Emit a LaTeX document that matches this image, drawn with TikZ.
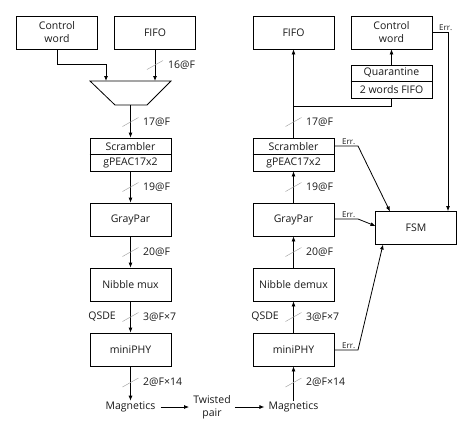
\documentclass[tikz,border=0pt]{standalone}
\usepackage{fontspec}
\setmainfont{Open Sans}
\usetikzlibrary{arrows.meta,calc}
\begin{document}
\begin{tikzpicture}[x=1pt,y=-1pt,
  every node/.style={font=\fontsize{10.5}{13}\selectfont, text=black!90},
  box/.style={draw, line width=0.8pt, minimum width=81pt, minimum height=33pt, inner sep=0pt, align=center},
  conn/.style={line width=0.8pt},
  arr/.style={line width=0.8pt, -{Latex[length=5pt,width=4pt]}},
  busmark/.style={draw=black!35, line width=0.5pt},
  buslabel/.style={anchor=west, inner sep=0pt},
  errlabel/.style={font=\fontsize{8}{9}\selectfont, anchor=south west, inner sep=1pt}
]
\useasboundingbox (0,0) rectangle (474,432);

% ---------- left column ----------
\node[box] (lcw) at (57,32.5) {Control\\word};
\node[box] (lfifo) at (155,32.5) {FIFO};
\draw[line width=0.8pt] (90,81) -- (171,81) -- (147,105) -- (115,105) -- cycle;
\coordinate (muxinA) at (106,81);
\coordinate (muxinB) at (155,81);
\coordinate (muxout) at (130.5,105);
\node[box] (lscr) at (130.5,154.5) {};
\draw[conn] (lscr.west) -- (lscr.east);
\node (lscrA) at (130.5,146.5) {Scrambler};
\node (lscrB) at (130.5,163) {gPEAC17x2};
\node[box] (lgray) at (130.5,219.5) {GrayPar};
\node[box] (lnib) at (130.5,284.5) {Nibble mux};
\node[box] (lphy) at (130.5,349.5) {miniPHY};
\node[inner sep=1pt] (lmag) at (130.5,407) {Magnetics};
\node[align=center, inner sep=1pt] (tp) at (212,407) {Twisted\\pair};

\draw[arr] (lcw.south) -- (57,64) -| (muxinA);
\draw[arr] (lfifo.south) -- (muxinB);
\draw[arr] (muxout) -- (lscr.north);
\draw[arr] (lscr.south) -- (lgray.north);
\draw[arr] (lgray.south) -- (lnib.north);
\draw[arr] (lnib.south) -- (lphy.north);
\draw[arr] (lphy.south) -- (lmag.north);
\draw[arr] (lmag.east) ++(4,0) -- ($(tp.west)+(-3,0)$);

\draw[busmark] (155,65) +(-8,4.5) -- +(8,-4.5);
\node[buslabel] (b16) at (168,65) {16@F};
\draw[busmark] (130.5,122) +(-8,4.5) -- +(8,-4.5);
\node[buslabel] (b17) at (143,122) {17@F};
\draw[busmark] (130.5,187) +(-8,4.5) -- +(8,-4.5);
\node[buslabel] (b19) at (143,187) {19@F};
\draw[busmark] (130.5,252) +(-8,4.5) -- +(8,-4.5);
\node[buslabel] (b20) at (143,252) {20@F};
\draw[busmark] (130.5,317) +(-8,4.5) -- +(8,-4.5);
\node[buslabel] (b3) at (143,317) {3@F×7};
\node[anchor=east, inner sep=0pt] (lq) at (116,317) {QSDE};
\draw[busmark] (130.5,382.5) +(-8,4.5) -- +(8,-4.5);
\node[buslabel] (b2) at (143,382.5) {2@F×14};

% ---------- right column ----------
\node[box] (rfifo) at (293.5,32.5) {FIFO};
\node[box] (rcw) at (391.5,32.5) {Control\\word};
\node[box] (rq) at (391.5,81.5) {};
\draw[conn] (rq.west) -- (rq.east);
\node (rqA) at (391.5,73) {Quarantine};
\node (rqB) at (391.5,90) {2 words FIFO};
\node[box] (rscr) at (293.5,154.5) {};
\draw[conn] (rscr.west) -- (rscr.east);
\node (rscrA) at (293.5,146.5) {Scrambler};
\node (rscrB) at (293.5,163) {gPEAC17x2};
\node[box] (rgray) at (293.5,219.5) {GrayPar};
\node[box] (rnib) at (293.5,284.5) {Nibble demux};
\node[box] (rphy) at (293.5,349.5) {miniPHY};
\node[inner sep=1pt] (rmag) at (293.5,407) {Magnetics};
\node[box] (fsm) at (416,228) {FSM};

\draw[arr] ($(tp.east)+(3,0)$) -- ($(rmag.west)+(-3,0)$);
\draw[arr] (rmag.north) -- (rphy.south);
\draw[arr] (rphy.north) -- (rnib.south);
\draw[arr] (rnib.north) -- (rgray.south);
\draw[arr] (rgray.north) -- (rscr.south);
\draw[arr] (rscr.north) -- (rfifo.south);
\draw[arr] (rq.north) -- (rcw.south);
\coordinate (junc) at (293.5,106);
\draw[conn] (rq.south) |- (junc);

\draw[busmark] (293.5,122) +(-8,4.5) -- +(8,-4.5);
\node[buslabel] (rb17) at (306,122) {17@F};
\draw[busmark] (293.5,187) +(-8,4.5) -- +(8,-4.5);
\node[buslabel] (rb19) at (306,187) {19@F};
\draw[busmark] (293.5,252) +(-8,4.5) -- +(8,-4.5);
\node[buslabel] (rb20) at (306,252) {20@F};
\draw[busmark] (293.5,317) +(-8,4.5) -- +(8,-4.5);
\node[buslabel] (rb3) at (306,317) {3@F×7};
\node[anchor=east, inner sep=0pt] (rqs) at (279,317) {QSDE};
\draw[busmark] (293.5,382.5) +(-8,4.5) -- +(8,-4.5);
\node[buslabel] (rb2) at (306,382.5) {2@F×14};

% ---------- error lines ----------
\coordinate (cwbend) at (448,32.5);
\draw[arr] (rcw.east) -- (cwbend) -- (cwbend |- fsm.north);
\node[errlabel] (e1) at (438,32) {Err.};
\coordinate (scrA) at (334,146);
\coordinate (scrB) at (358,146);
\draw[arr] (scrA) -- (scrB) -- (390,211.5);
\node[errlabel] (e2) at (341,145.5) {Err.};
\coordinate (grA) at (334,219);
\coordinate (grB) at (358,219);
\draw[arr] (grA) -- (grB) -- (375.5,226);
\node[errlabel] (e3) at (341,218.5) {Err.};
\coordinate (phA) at (334,350);
\coordinate (phB) at (358,350);
\draw[arr] (phA) -- (phB) -- (383,244.5);
\node[errlabel] (e4) at (341,349.5) {Err.};
\end{tikzpicture}
\end{document}
